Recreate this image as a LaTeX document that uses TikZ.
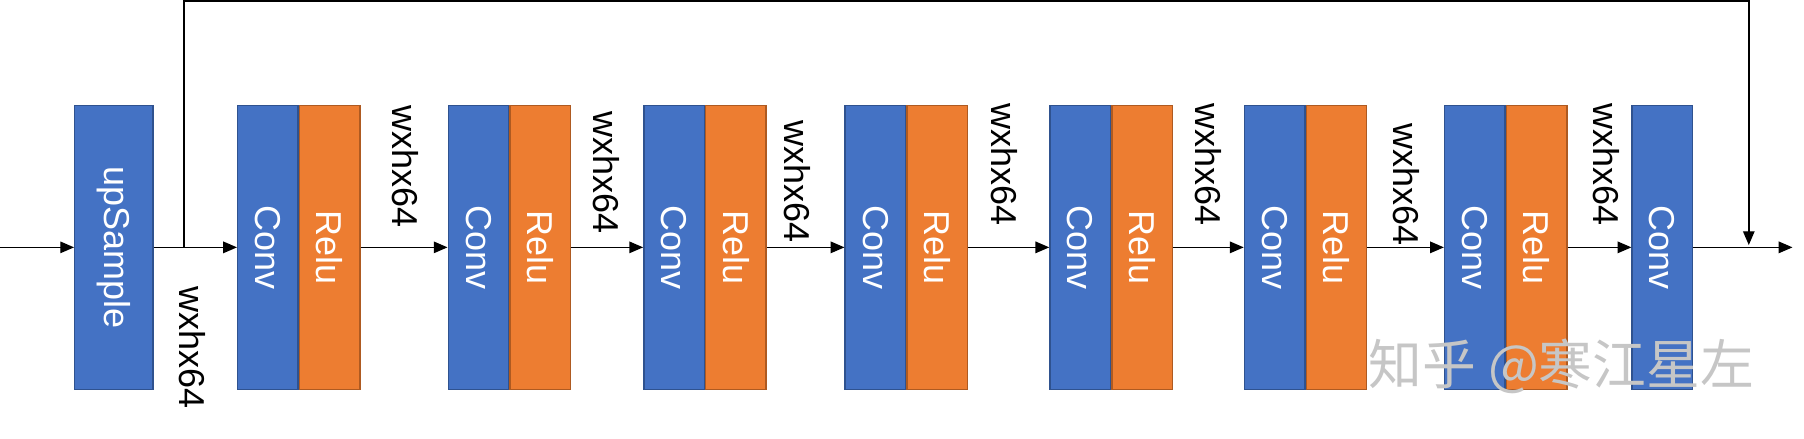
\documentclass[tikz,border=0pt]{standalone}
\usepackage{fontspec}
\setmainfont{Liberation Sans}
\newfontfamily\cjkfont{Noto Sans CJK SC}
\usetikzlibrary{positioning,arrows.meta}

\definecolor{convblue}{HTML}{4472C4}
\definecolor{convedge}{HTML}{2F528F}
\definecolor{reluorange}{HTML}{ED7D31}
\definecolor{reluedge}{HTML}{AE5A21}

\newcommand{\vlabel}[1]{\rotatebox{-90}{#1}}

\tikzset{
	layer/.style={minimum width=0.525cm, minimum height=2.47cm, inner sep=0pt,
		text=white, font=\fontsize{8.9}{10}\selectfont, line width=0.35pt},
	convbox/.style={layer, fill=convblue, draw=convedge},
	relubox/.style={layer, fill=reluorange, draw=reluedge},
	sizelabel/.style={font=\fontsize{8.9}{10}\selectfont, rotate=-90, inner sep=0pt},
	flow/.style={line width=0.35pt, -{Triangle[length=0.12cm,width=0.1cm]}}
}

\begin{document}
\begin{tikzpicture}

		\useasboundingbox (0,0) rectangle (15.68,3.81);

		% Upsampling layer
		\node[convbox, minimum width=0.68cm] (up) at (0.99,1.66) {\vlabel{upSample}};

		% Conv + Relu blocks
		\node[convbox, anchor=west] (c1) at (2.06,1.66) {\vlabel{Conv}};
		\node[relubox, right=0pt of c1] (r1) {\vlabel{Relu}};
		\node[convbox, anchor=west] (c2) at (3.89,1.66) {\vlabel{Conv}};
		\node[relubox, right=0pt of c2] (r2) {\vlabel{Relu}};
		\node[convbox, anchor=west] (c3) at (5.59,1.66) {\vlabel{Conv}};
		\node[relubox, right=0pt of c3] (r3) {\vlabel{Relu}};
		\node[convbox, anchor=west] (c4) at (7.34,1.66) {\vlabel{Conv}};
		\node[relubox, right=0pt of c4] (r4) {\vlabel{Relu}};
		\node[convbox, anchor=west] (c5) at (9.12,1.66) {\vlabel{Conv}};
		\node[relubox, right=0pt of c5] (r5) {\vlabel{Relu}};
		\node[convbox, anchor=west] (c6) at (10.81,1.66) {\vlabel{Conv}};
		\node[relubox, right=0pt of c6] (r6) {\vlabel{Relu}};
		\node[convbox, anchor=west] (c7) at (12.55,1.66) {\vlabel{Conv}};
		\node[relubox, right=0pt of c7] (r7) {\vlabel{Relu}};

		% Last conv
		\node[convbox, anchor=west] (c8) at (14.18,1.66) {\vlabel{Conv}};

		% Feature map sizes
		\node[sizelabel] (s0) at (1.67,0.79) {wxhx64};
		\node[sizelabel] (s1) at (3.52,2.36) {wxhx64};
		\node[sizelabel] (s2) at (5.27,2.31) {wxhx64};
		\node[sizelabel] (s3) at (6.93,2.23) {wxhx64};
		\node[sizelabel] (s4) at (8.73,2.38) {wxhx64};
		\node[sizelabel] (s5) at (10.50,2.38) {wxhx64};
		\node[sizelabel] (s6) at (12.22,2.21) {wxhx64};
		\node[sizelabel] (s7) at (13.96,2.38) {wxhx64};

		% Main path
		\coordinate (in) at (0,1.66);
		\coordinate (out) at (15.58,1.66);
		\draw[flow] (in) -- (up);
		\draw[flow] (up) -- (c1);
		\draw[flow] (r1) -- (c2);
		\draw[flow] (r2) -- (c3);
		\draw[flow] (r3) -- (c4);
		\draw[flow] (r4) -- (c5);
		\draw[flow] (r5) -- (c6);
		\draw[flow] (r6) -- (c7);
		\draw[flow] (r7) -- (c8);
		\draw[flow] (c8) -- (out);

		% Skip connection
		\coordinate (split) at (1.60,1.66);
		\coordinate (top) at (1.60,3.80);
		\coordinate (merge) at (15.20,1.68);
		\draw[flow] (split) -- (top) -| (merge);

		% Watermark
		\node[text=gray!45, font=\cjkfont\fontsize{13.3}{14}\selectfont] (mark) at (13.57,0.63) {知乎 @寒江星左};

	\end{tikzpicture}
\end{document}
